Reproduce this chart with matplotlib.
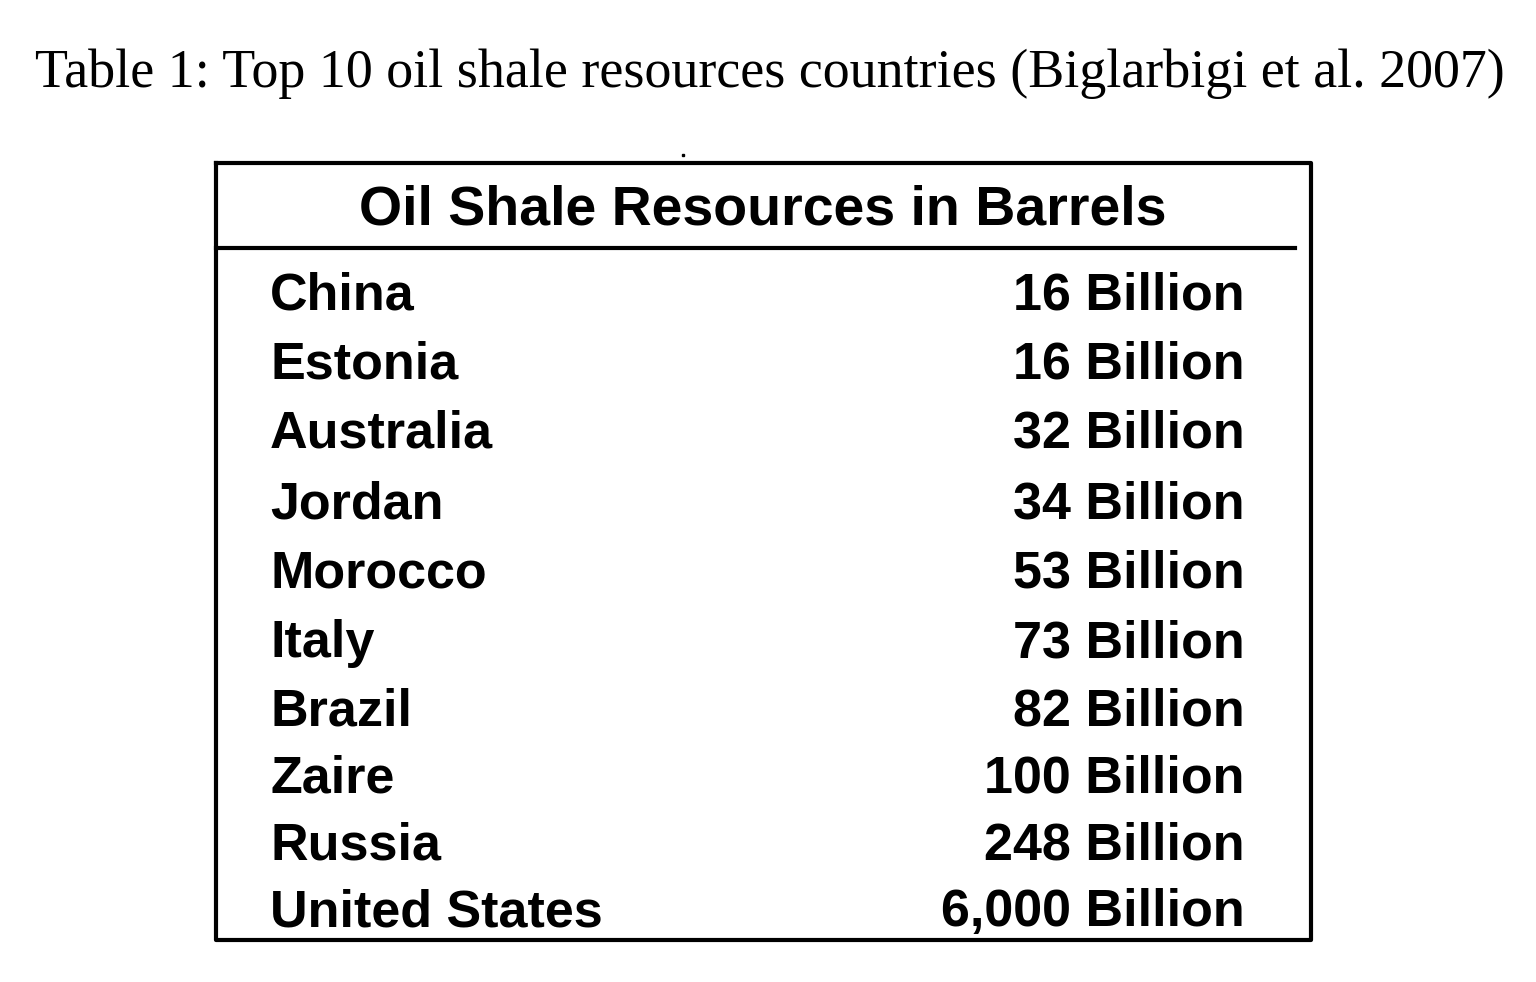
import matplotlib
matplotlib.use("Agg")
import matplotlib.pyplot as plt

title = "Table 1: Top 10 oil shale resources countries (Biglarbigi et al. 2007)"
header = "Oil Shale Resources in Barrels"
countries = ["China", "Estonia", "Australia", "Jordan", "Morocco", "Italy",
             "Brazil", "Zaire", "Russia", "United States"]
values = ["16 Billion", "16 Billion", "32 Billion", "34 Billion", "53 Billion",
          "73 Billion", "82 Billion", "100 Billion", "248 Billion", "6,000 Billion"]
row_y = [296, 365, 434, 505, 574, 644, 712, 779, 846, 913]

fig = plt.figure(figsize=(15.36, 9.82), dpi=100)
ax = fig.add_axes([0, 0, 1, 1])
ax.set_xlim(0, 1536)
ax.set_ylim(982, 0)
ax.axis("off")

ax.text(770, 74, title, ha="center", va="center", fontsize=38.9,
        family="Liberation Serif")
ax.plot([683], [155], marker="s", ms=2, color="black")
ax.plot([216, 1311, 1311, 216, 216], [163, 163, 940, 940, 163], color="black", lw=3)
ax.plot([216, 1295], [248, 248], color="black", lw=3)
ax.text(763, 210, header, ha="center", va="center", fontsize=40,
        family="Liberation Sans", weight="bold")
for c, v, y in zip(countries, values, row_y):
    ax.text(270, y, c, ha="left", va="center", fontsize=37.5,
            family="Liberation Sans", weight="bold")
    ax.text(1245, y, v, ha="right", va="center", fontsize=37.5,
            family="Liberation Sans", weight="bold")

fig.savefig("out.png", dpi=100)
